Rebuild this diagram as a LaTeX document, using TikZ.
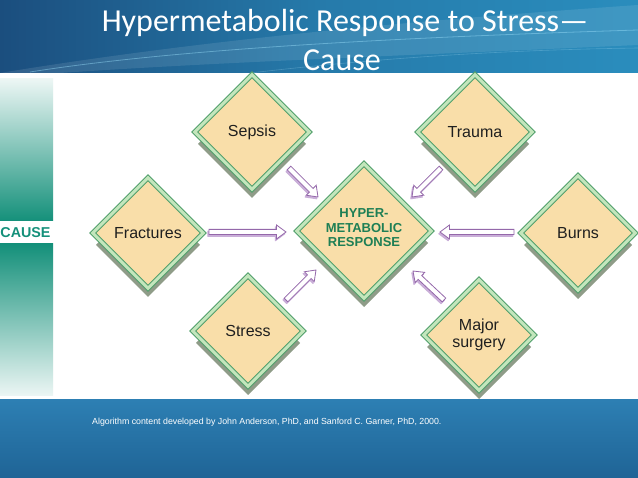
\documentclass[tikz,border=0pt]{standalone}
\usepackage{fontspec}
\setmainfont{Liberation Sans}
\newfontfamily\titlefont{Carlito}
\usetikzlibrary{shapes.geometric,calc}

\definecolor{dgreen}{HTML}{52A06C}
\definecolor{lgreen}{HTML}{C3E6BC}
\definecolor{peach}{HTML}{F9DEA9}
\definecolor{shadowc}{HTML}{8F9C88}
\definecolor{apurple}{HTML}{9468AA}
\definecolor{alav}{HTML}{C9AED8}
\definecolor{tealc}{HTML}{14907A}
\definecolor{textgreen}{HTML}{1E7F55}
\definecolor{topA}{HTML}{1B4E7E}
\definecolor{topB}{HTML}{2A8DBD}
\definecolor{botA}{HTML}{2D7FB3}
\definecolor{botB}{HTML}{1F6496}

% diamond with shadow: [opts]{name}{cx}{cy}{half}{text}
\newcommand\diam[6][]{%
  \fill[shadowc] (#3,#4+12-#5+6) -- (#3+#5-6,#4+12) -- (#3,#4+#5+6) -- (#3-#5+6,#4+12) -- cycle;
  \node[box, minimum size=#5*2-5, #1] (#2) at (#3,#4) {#6};}

% block arrow polygon: {tail}{tip}{style}
\newcommand\arrowpoly[3]{%
  \coordinate (ah) at ($(#2)!9.5pt!(#1)$);
  \coordinate (q1) at ($(#1)!2.6pt!90:(#2)$);
  \coordinate (q2) at ($(ah)!2.6pt!90:(#2)$);
  \coordinate (q3) at ($(ah)!7pt!90:(#2)$);
  \coordinate (q4) at ($(ah)!7pt!-90:(#2)$);
  \coordinate (q5) at ($(ah)!2.6pt!-90:(#2)$);
  \coordinate (q6) at ($(#1)!2.6pt!-90:(#2)$);
  \draw[#3] (q1) -- (q2) -- (q3) -- (#2) -- (q4) -- (q5) -- (q6) -- cycle;}

\newcommand\barrow[2]{%
  \coordinate (st) at ($(#1)+(-1.2,1.8)$);
  \coordinate (sh) at ($(#2)+(-1.2,1.8)$);
  \arrowpoly{st}{sh}{fill=alav,draw=alav,line width=1pt,line join=round}
  \arrowpoly{#1}{#2}{fill=white,draw=apurple,line width=0.8pt,line join=miter}}

\begin{document}
\begin{tikzpicture}[x=1pt,y=-1pt,
  box/.style={diamond, aspect=1, inner sep=0pt, draw=dgreen, double=lgreen,
    double distance=3pt, line width=1.1pt, fill=peach, align=center,
    text=black!88, font=\fontsize{16}{17}\selectfont},
  centertext/.style={text=textgreen, align=center, font=\bfseries\fontsize{13}{14.5}\selectfont},
  titletext/.style={text=white, font=\titlefont\fontsize{32}{36}\selectfont, anchor=base}]
\useasboundingbox (0,0) rectangle (638,478);
\fill[white] (0,0) rectangle (638,478);

% top banner
\fill[left color=topA, right color=topB, middle color=topB!70!topA] (0,0) rectangle (638,73);
\fill[white, opacity=0.10] (0,73) .. controls (200,40) and (420,20) .. (638,5) -- (638,45) .. controls (420,55) and (220,62) .. (60,73) -- cycle;
\draw[cyan!40!white, opacity=0.45, line width=0.8pt] (30,72) .. controls (170,50) and (380,38) .. (638,30);
\draw[cyan!30!white, opacity=0.25, line width=0.6pt] (250,73) .. controls (380,58) and (500,50) .. (638,48);

% bottom banner
\fill[top color=botA, bottom color=botB] (0,400) rectangle (638,478);

% left strip
\fill[top color=tealc!8!white, bottom color=tealc] (0,79) rectangle (53,221);
\fill[top color=tealc, bottom color=tealc!8!white] (0,244) rectangle (53,396);
\node[text=tealc, font=\bfseries\fontsize{14.3}{16}\selectfont] (cause) at (25.5,232.5) {CAUSE};

% title
\node[titletext] (title1) at (345,32) {Hypermetabolic Response to Stress—};
\node[titletext] (title2) at (342,71) {Cause};

% diamonds
\diam{sepsis}{252}{132}{60}{Sepsis}
\diam{trauma}{475}{132}{60}{Trauma}
\diam{fractures}{148}{233}{58}{Fractures}
\diam{hyper}{364}{231}{70}{}
\node[centertext] (hypertext) at (364,228) {HYPER-\\METABOLIC\\RESPONSE};
\diam{burns}{578}{233}{60}{Burns}
\diam{stress}{248}{331}{58}{Stress}
\diam{surgery}{479}{335}{58}{Major\\surgery}

% arrow end points
\coordinate (a1t) at ($(sepsis)+(37,36)$);
\coordinate (a1h) at ($(hyper)+(-46,-34)$);
\coordinate (a2t) at ($(trauma)+(-34,36)$);
\coordinate (a2h) at ($(hyper)+(48,-34)$);
\coordinate (a3t) at ($(fractures)+(61,-1)$);
\coordinate (a3h) at ($(hyper)+(-78,1)$);
\coordinate (a4t) at ($(burns)+(-64,-1)$);
\coordinate (a4h) at ($(hyper)+(76,1)$);
\coordinate (a5t) at ($(stress)+(38,-31)$);
\coordinate (a5h) at ($(hyper)+(-48,39)$);
\coordinate (a6t) at ($(surgery)+(-35,-35)$);
\coordinate (a6h) at ($(hyper)+(49,40)$);

\barrow{a1t}{a1h}
\barrow{a2t}{a2h}
\barrow{a3t}{a3h}
\barrow{a4t}{a4h}
\barrow{a5t}{a5h}
\barrow{a6t}{a6h}

% footer
\node[anchor=base west, text=white, font=\fontsize{8.8}{10}\selectfont, inner sep=0pt] (footer) at (92,425)
  {Algorithm content developed by John Anderson, PhD, and Sanford C. Garner, PhD, 2000.};
\end{tikzpicture}
\end{document}
